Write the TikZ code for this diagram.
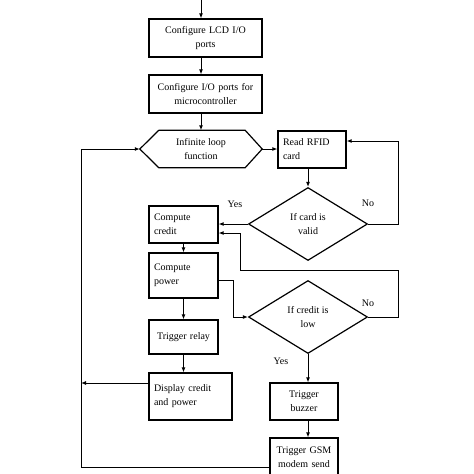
\documentclass[tikz,border=0pt]{standalone}
\usepackage{fontspec}
\setmainfont{Liberation Serif}
\usetikzlibrary{shapes.geometric,arrows.meta}

\tikzset{
  proc/.style={draw, line width=1.2pt, rectangle, inner xsep=3pt, inner ysep=0pt, align=center},
  lproc/.style={proc, inner xsep=5pt, align=left},
  decision/.style={diamond, draw, line width=1.2pt, minimum width=119pt, minimum height=73pt,
    inner sep=0pt, shape aspect=1.63, align=center},
  arr/.style={line width=1pt, -{Latex[length=5pt,width=4pt]}},
  lbl/.style={inner sep=0pt}
}

\begin{document}
\begin{tikzpicture}[x=1pt, y=-1pt, font=\fontsize{10}{14}\selectfont]
\useasboundingbox (0,0) rectangle (474,474);

\node[proc, text width=107pt, minimum height=38pt] (lcd) at (205.5,38) {Configure LCD I/O\\ports};
\node[proc, text width=107pt, minimum height=38pt] (io) at (205.5,94) {Configure I/O ports for\\microcontroller};
\node[inner sep=0pt, minimum width=122pt, minimum height=37pt, align=center] (loop) at (201,149) {Infinite loop\\function};
\draw[line width=1.2pt] (loop.west) -- ([xshift=19pt]loop.north west) -- ([xshift=-17pt]loop.north east)
  -- (loop.east) -- ([xshift=-17pt]loop.south east) -- ([xshift=19pt]loop.south west) -- cycle;
\node[lproc, text width=58pt, minimum height=37pt] (rfid) at (312,149.5) {Read RFID\\card};
\node[decision] (valid) at (308,224) {If card is\\valid};
\node[lproc, text width=59pt, minimum height=37pt] (credit) at (183.5,224.5) {Compute\\credit};
\node[lproc, text width=59pt, minimum height=45pt] (power) at (183.5,275.5) {Compute\\power};
\node[decision] (low) at (308,317) {If credit is\\low};
\node[proc, text width=63pt, minimum height=34pt] (relay) at (183.5,337) {Trigger relay};
\node[lproc, text width=73pt, minimum height=47pt] (display) at (190.5,396.5) {Display credit\\and power};
\node[proc, text width=62pt, minimum height=37pt] (buzzer) at (304,401.5) {Trigger\\buzzer};
\node[proc, text width=62pt, minimum height=38pt] (gsm) at (304,457) {Trigger GSM\\modem send};

\node[lbl] (yesA) at (235,204) {Yes};
\node[lbl] (noA) at (368,203) {No};
\node[lbl] (noB) at (368,303) {No};
\node[lbl] (yesB) at (281,361) {Yes};

\coordinate (start) at (201,0);
\coordinate (rtA) at (398,141);
\coordinate (rtB) at (398,270);
\coordinate (backB) at (240,233);
\coordinate (bendC) at (233,280);
\coordinate (lft) at (81,467);

\draw[arr] (start) -- (start |- lcd.north);
\draw[arr] (start |- lcd.south) -- (start |- io.north);
\draw[arr] (start |- io.south) -- (loop.north);
\draw[arr] (loop.east) -- (loop.east -| rfid.west);
\draw[arr] (valid.north |- rfid.south) -- (valid.north);
\draw[arr] (valid.west) -- (valid.west -| credit.east);
\draw[arr] (valid.east) -| (rtA) -- (rtA -| rfid.east);
\draw[arr] (credit.south) -- (power.north);
\draw[arr] (power.east |- bendC) -- (bendC) |- (low.west);
\draw[arr] (low.east) -| (rtB) -- (rtB -| backB) -- (backB) -- (backB -| credit.east);
\draw[arr] (power.south) -- (relay.north);
\draw[arr] (relay.south) -- (relay.south |- display.north);
\draw[arr] (low.south) -- (low.south |- buzzer.north);
\draw[arr] (low.south |- buzzer.south) -- (low.south |- gsm.north);
\draw[arr] (display.west |- 0,383) -- (lft |- 0,383);
\draw[arr] (gsm.west |- lft) -- (lft) |- (loop.west);
\end{tikzpicture}
\end{document}
